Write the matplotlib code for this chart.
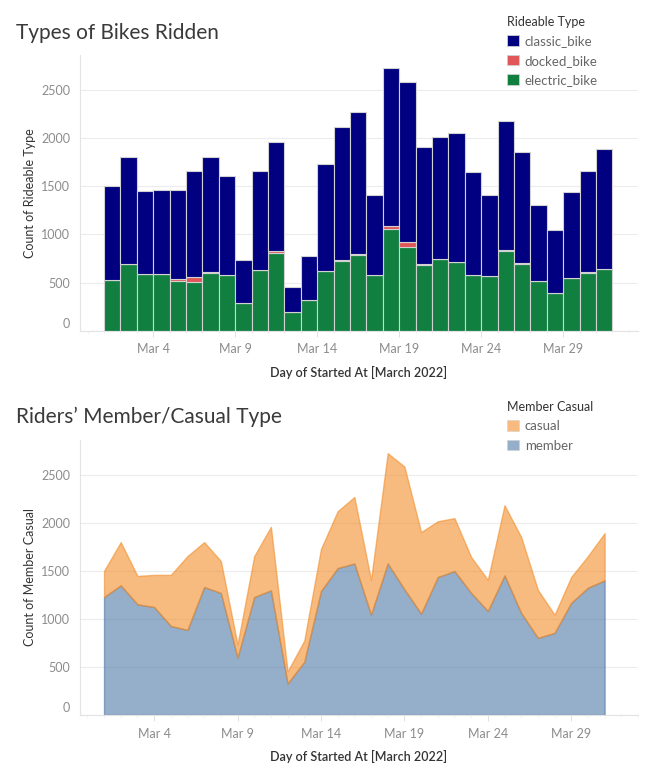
import matplotlib
matplotlib.use("Agg")
from matplotlib import pyplot as plt
from matplotlib.patches import Patch
from matplotlib.transforms import offset_copy

plt.rcParams['font.family'] = ['Lato', 'DejaVu Sans']

# day of month, March 2022
days = list(range(1, 32))

# rideable type counts per day
electric = [530, 695, 592, 592, 522, 512, 606, 581, 293, 633, 812, 200, 323, 623, 724, 786,
            581, 1057, 871, 683, 747, 716, 581, 571, 828, 693, 520, 396, 550, 606, 643]
docked = [2, 2, 2, 2, 14, 48, 2, 2, 1, 3, 15, 1, 1, 3, 15, 15,
          2, 30, 48, 15, 3, 3, 2, 2, 15, 15, 2, 1, 2, 2, 3]
classic = [966, 1101, 852, 863, 921, 1093, 1190, 1018, 439, 1017, 1130, 252, 450, 1100, 1380, 1466,
           822, 1636, 1665, 1204, 1265, 1328, 1060, 832, 1338, 1142, 779, 646, 884, 1045, 1245]

# member / casual counts per day
member = [1227, 1348, 1151, 1123, 926, 885, 1331, 1269, 598, 1227, 1296, 328, 553, 1289, 1528, 1576,
          1044, 1576, 1307, 1054, 1435, 1497, 1269, 1082, 1452, 1061, 802, 854, 1168, 1324, 1400]
casual = [271, 450, 295, 334, 531, 768, 467, 332, 135, 426, 661, 125, 221, 437, 591, 691,
          361, 1147, 1277, 848, 580, 550, 374, 323, 729, 789, 499, 189, 268, 329, 491]

tick_days = [4, 9, 14, 19, 24, 29]
tick_labels = ["Mar 4", "Mar 9", "Mar 14", "Mar 19", "Mar 24", "Mar 29"]
y_ticks = [0, 500, 1000, 1500, 2000, 2500]

navy = "#000080"
red = "#E15759"
green = "#107F40"
blue = "#4E79A7"
orange = "#F28E2B"
tick_col = "#8c8c8c"
dark = "#333333"

fig = plt.figure(figsize=(6.49, 7.83), dpi=100)
ax1 = fig.add_axes([80/649, 1 - 331/783, 558/649, 276/783])
ax2 = fig.add_axes([80/649, 1 - 715/783, 558/649, 275/783])


def style(ax):
    ax.set_ylim(0, 2860)
    ax.set_yticks(y_ticks)
    ax.set_xticks(tick_days)
    ax.set_xticklabels(tick_labels)
    ax.set_xticks([d for d in range(0, 34)], minor=True)
    ax.grid(axis="y", color="#ececec", lw=0.8)
    ax.set_axisbelow(True)
    for s in ["top", "right"]:
        ax.spines[s].set_visible(False)
    for s in ["left", "bottom"]:
        ax.spines[s].set_color("#e3e3e3")
        ax.spines[s].set_linewidth(0.8)
    ax.tick_params(axis="y", length=0, pad=7, labelsize=9, labelcolor=tick_col)
    ax.tick_params(axis="x", which="major", length=4, width=0.6, color="#dcdcdc",
                   pad=5, labelsize=9, labelcolor=tick_col)
    ax.tick_params(axis="x", which="minor", length=2.5, width=0.5, color="#eeeeee")
    # tableau nudges the zero label up off the axis line
    zero = ax.yaxis.get_major_ticks()[0].label1
    zero.set_transform(offset_copy(zero.get_transform(), fig=fig, y=8, units="dots"))
    ax.set_xlabel("Day of Started At [March 2022]", fontsize=9, color=dark,
                  fontweight="semibold", va="center")
    ax.xaxis.set_label_coords(0.5, -0.151)


# top: stacked bars
edge = dict(edgecolor="#d2d2d2", linewidth=0.8, width=1.0, align="edge")
ax1.bar(days, electric, color=green, **edge)
bottom2 = [e + d for e, d in zip(electric, docked)]
ax1.bar(days, docked, bottom=electric, color=red, **edge)
ax1.bar(days, classic, bottom=bottom2, color=navy, **edge)
ax1.set_xlim(-0.46, 33.56)
style(ax1)
ax1.set_ylabel("Count of Rideable Type", fontsize=9, color=dark, va="center")
ax1.yaxis.set_label_coords(-50/558, 0.5)

# bottom: stacked area
total = [m + c for m, c in zip(member, casual)]
ax2.fill_between(days, 0, member, facecolor=blue, alpha=0.6, edgecolor=blue, lw=1)
ax2.fill_between(days, member, total, facecolor=orange, alpha=0.6, edgecolor=orange, lw=1)
ax2.set_xlim(-0.44, 32.46)
style(ax2)
ax2.set_ylabel("Count of Member Casual", fontsize=9, color=dark, va="center")
ax2.yaxis.set_label_coords(-50/558, 0.5)

# titles
fig.text(16/649, 1 - 33/783, "Types of Bikes Ridden", fontsize=15, color="#3a3a3a", va="center")
fig.text(16/649, 1 - 417/783, "Riders\u2019 Member/Casual Type", fontsize=15, color="#3a3a3a",
         va="center")

# legends
leg_kw = dict(loc="upper left", frameon=False, fontsize=9.5, title_fontsize=9,
              alignment="left", handlelength=0.9, handleheight=0.9,
              handletextpad=0.45, labelspacing=0.55, borderpad=0, borderaxespad=0,
              labelcolor="#666666")
h1 = [Patch(facecolor=navy, edgecolor="#cfcfcf", lw=0.6),
      Patch(facecolor=red, edgecolor="#cfcfcf", lw=0.6),
      Patch(facecolor=green, edgecolor="#cfcfcf", lw=0.6)]
lg1 = fig.legend(h1, ["classic_bike", "docked_bike", "electric_bike"], title="Rideable Type",
                 bbox_to_anchor=(507/649, 1 - 16/783), **leg_kw)
lg1.get_title().set_color(dark)
h2 = [Patch(facecolor=orange, alpha=0.6, edgecolor="#cfcfcf", lw=0.6),
      Patch(facecolor=blue, alpha=0.6, edgecolor="#cfcfcf", lw=0.6)]
lg2 = fig.legend(h2, ["casual", "member"], title="Member Casual",
                 bbox_to_anchor=(507/649, 1 - 401/783), **leg_kw)
lg2.get_title().set_color(dark)

fig.savefig("out.png", dpi=100)
